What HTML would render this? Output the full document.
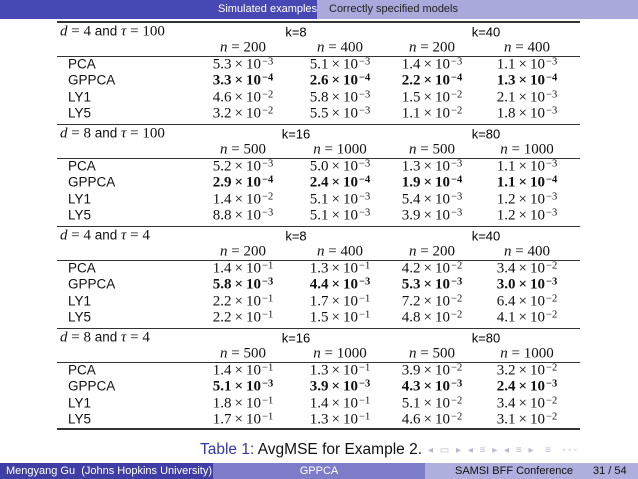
<!DOCTYPE html>
<html><head><meta charset="utf-8"><style>
body{margin:0;width:638px;height:479px;background:#fff;position:relative;overflow:hidden;font-family:"Liberation Sans",sans-serif}
.abs{position:absolute;white-space:nowrap}
.rule{position:absolute;left:57px;width:523px;background:#333}
.c{transform:translate(-50%,-50%);font-size:13px}
.l{transform:translateY(-50%);font-size:13.5px;color:#111}
.m{font-family:"Liberation Serif",serif;font-size:15px;color:#111}
.m i{font-style:italic}
.m sup{font-size:10.5px;vertical-align:4px;margin-left:1px}
.x{margin:0 3px}
.b{font-weight:bold}
</style></head><body>
<div class="abs" style="left:0;top:0;width:317px;height:19px;background:#4848b4"></div>
<div class="abs" style="left:317px;top:0;width:321px;height:19px;background:#a9a9dc"></div>
<div class="abs" style="left:218px;top:3px;font-size:11px;color:#fff">Simulated examples</div>
<div class="abs" style="left:329px;top:3px;font-size:11px;color:#222">Correctly specified models</div>
<div id="tbl"></div>
<div class="abs" style="left:200px;top:441px;font-size:15.5px;color:#111"><span style="color:#3636b0">Table 1:</span> AvgMSE for Example 2.</div>
<div class="abs" style="left:428px;top:445px;font-size:10px;color:#b8b8d0;letter-spacing:2px">◂ ▭ ▸ ◂ ≡ ▸ ◂ ≡ ▸ &nbsp;≡ &nbsp;◦◦◦</div>
<div class="abs" style="left:0;top:463px;width:213px;height:16px;background:#3e3ea6;color:#fff;font-size:11px;line-height:16px;padding-left:6px;box-sizing:border-box">Mengyang Gu &nbsp;(Johns Hopkins University)</div>
<div class="abs" style="left:213px;top:463px;width:212px;height:16px;background:#7c7cc8;color:#fff;font-size:11px;line-height:16px;text-align:center">GPPCA</div>
<div class="abs" style="left:425px;top:463px;width:213px;height:16px;background:#afafde;color:#111;font-size:11px;line-height:16px"><span style="position:absolute;left:30px">SAMSI BFF Conference</span><span style="position:absolute;left:168px">31 / 54</span></div>
<script>
const blockLabels=[["4","100"],["8","100"],["4","4"],["8","4"]];
const kLabels=[["8","40"],["16","80"],["8","40"],["16","80"]];
const nLabels=[["200","400","200","400"],["500","1000","500","1000"],["200","400","200","400"],["500","1000","500","1000"]];
const methods=["PCA","GPPCA","LY1","LY5"];
const vals=[
[["5.3","-3","5.1","-3","1.4","-3","1.1","-3"],["3.3","-4","2.6","-4","2.2","-4","1.3","-4"],["4.6","-2","5.8","-3","1.5","-2","2.1","-3"],["3.2","-2","5.5","-3","1.1","-2","1.8","-3"]],
[["5.2","-3","5.0","-3","1.3","-3","1.1","-3"],["2.9","-4","2.4","-4","1.9","-4","1.1","-4"],["1.4","-2","5.1","-3","5.4","-3","1.2","-3"],["8.8","-3","5.1","-3","3.9","-3","1.2","-3"]],
[["1.4","-1","1.3","-1","4.2","-2","3.4","-2"],["5.8","-3","4.4","-3","5.3","-3","3.0","-3"],["2.2","-1","1.7","-1","7.2","-2","6.4","-2"],["2.2","-1","1.5","-1","4.8","-2","4.1","-2"]],
[["1.4","-1","1.3","-1","3.9","-2","3.2","-2"],["5.1","-3","3.9","-3","4.3","-3","2.4","-3"],["1.8","-1","1.4","-1","5.1","-2","3.4","-2"],["1.7","-1","1.3","-1","4.6","-2","3.1","-2"]]];
const colX=[243,340,432,527],kX=[296,486];
const T=document.getElementById('tbl');
function add(cls,x,y,html,name){const d=document.createElement('div');d.className='abs '+cls;d.style.left=x+'px';d.style.top=y+'px';d.innerHTML=html;


T.appendChild(d);return d;}
function rule(y,h,name){const r=document.createElement('div');r.className='rule';r.style.top=y+'px';r.style.height=h+'px';


T.appendChild(r);}
rule(21,1.5,'table-top-rule');
blockLabels.forEach((bl,b)=>{const top=22+b*102;
 if(b>0)rule(top-0.5,1,'block-rule');
 rule(top+33.5,1,'header-rule');
 add('l m',60,top+10,'<i>d</i> = '+bl[0]+' <span style="font-family:Liberation Sans,sans-serif;font-size:13.5px">and</span> <i>τ</i> = '+bl[1],'block-label');
 kLabels[b].forEach((k,i)=>add('c',kX[i],top+10,'k='+k,'k-label'));
 nLabels[b].forEach((n,i)=>add('c m',colX[i],top+26,'<i>n</i> = '+n,'n-label'));
 methods.forEach((m,r)=>{const y=top+42+r*16.3;
  add('l',68,y,m,'method-label');
  for(let i=0;i<4;i++){const v=vals[b][r];
   add('c m'+(r==1?' b':''),colX[i],y+1,v[2*i]+'<span class="x">×</span>10<sup>−'+v[2*i+1].slice(1)+'</sup>','value-cell');}
 });
});
rule(428,1.5,'table-bottom-rule');
</script>
</body></html>
